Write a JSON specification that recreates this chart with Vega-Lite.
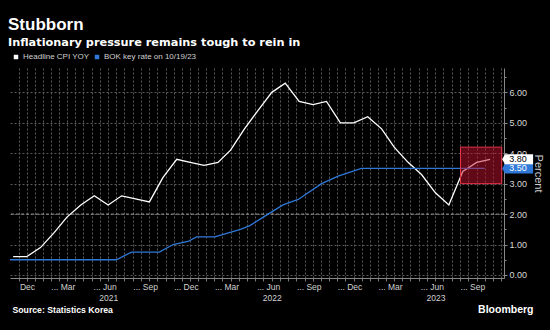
{
  "$schema": "https://vega.github.io/schema/vega-lite/v6.json",
  "width": 494,
  "height": 210,
  "autosize": {"type": "none"},
  "padding": {"left": 10, "top": 68, "right": 46, "bottom": 52},
  "background": "#000000",
  "config": {
    "view": {"stroke": null},
    "font": "Liberation Sans",
    "axis": {"labelFont": "Liberation Sans", "titleFont": "Liberation Sans"}
  },
  "title": {
    "text": "Stubborn",
    "subtitle": "Inflationary pressure remains tough to rein in",
    "anchor": "start",
    "frame": "group",
    "fontSize": 17,
    "fontWeight": "bold",
    "color": "#ffffff",
    "subtitleFont": "DejaVu Sans",
    "subtitleFontSize": 11.3,
    "subtitleFontWeight": "bold",
    "subtitleColor": "#ffffff",
    "subtitlePadding": 3,
    "offset": 4,
    "dx": -2
  },
  "resolve": {"axis": {"x": "independent", "y": "independent"}},
  "layer": [
    {
      "data": {"values": [{"target": 2}]},
      "mark": {"type": "rule", "color": "#9a9a9a", "strokeDash": [3, 2], "strokeWidth": 1},
      "encoding": {
        "y": {"field": "target", "type": "quantitative", "scale": {"domain": [-0.1, 6.8]}, "axis": null}
      }
    },
    {
      "data": {"values": [
        {"date": "2020-11-01", "value": 0.6, "series": "Headline CPI YOY"},
        {"date": "2020-12-01", "value": 0.6, "series": "Headline CPI YOY"},
        {"date": "2021-01-01", "value": 0.9, "series": "Headline CPI YOY"},
        {"date": "2021-02-01", "value": 1.4, "series": "Headline CPI YOY"},
        {"date": "2021-03-01", "value": 1.9, "series": "Headline CPI YOY"},
        {"date": "2021-04-01", "value": 2.3, "series": "Headline CPI YOY"},
        {"date": "2021-05-01", "value": 2.6, "series": "Headline CPI YOY"},
        {"date": "2021-06-01", "value": 2.3, "series": "Headline CPI YOY"},
        {"date": "2021-07-01", "value": 2.6, "series": "Headline CPI YOY"},
        {"date": "2021-08-01", "value": 2.5, "series": "Headline CPI YOY"},
        {"date": "2021-09-01", "value": 2.4, "series": "Headline CPI YOY"},
        {"date": "2021-10-01", "value": 3.2, "series": "Headline CPI YOY"},
        {"date": "2021-11-01", "value": 3.8, "series": "Headline CPI YOY"},
        {"date": "2021-12-01", "value": 3.7, "series": "Headline CPI YOY"},
        {"date": "2022-01-01", "value": 3.6, "series": "Headline CPI YOY"},
        {"date": "2022-02-01", "value": 3.7, "series": "Headline CPI YOY"},
        {"date": "2022-03-01", "value": 4.1, "series": "Headline CPI YOY"},
        {"date": "2022-04-01", "value": 4.8, "series": "Headline CPI YOY"},
        {"date": "2022-05-01", "value": 5.4, "series": "Headline CPI YOY"},
        {"date": "2022-06-01", "value": 6.0, "series": "Headline CPI YOY"},
        {"date": "2022-07-01", "value": 6.3, "series": "Headline CPI YOY"},
        {"date": "2022-08-01", "value": 5.7, "series": "Headline CPI YOY"},
        {"date": "2022-09-01", "value": 5.6, "series": "Headline CPI YOY"},
        {"date": "2022-10-01", "value": 5.7, "series": "Headline CPI YOY"},
        {"date": "2022-11-01", "value": 5.0, "series": "Headline CPI YOY"},
        {"date": "2022-12-01", "value": 5.0, "series": "Headline CPI YOY"},
        {"date": "2023-01-01", "value": 5.2, "series": "Headline CPI YOY"},
        {"date": "2023-02-01", "value": 4.8, "series": "Headline CPI YOY"},
        {"date": "2023-03-01", "value": 4.2, "series": "Headline CPI YOY"},
        {"date": "2023-04-01", "value": 3.7, "series": "Headline CPI YOY"},
        {"date": "2023-05-01", "value": 3.3, "series": "Headline CPI YOY"},
        {"date": "2023-06-01", "value": 2.7, "series": "Headline CPI YOY"},
        {"date": "2023-07-01", "value": 2.3, "series": "Headline CPI YOY"},
        {"date": "2023-08-01", "value": 3.4, "series": "Headline CPI YOY"},
        {"date": "2023-09-01", "value": 3.7, "series": "Headline CPI YOY"},
        {"date": "2023-10-01", "value": 3.8, "series": "Headline CPI YOY"},
        {"date": "2020-10-25", "value": 0.5, "series": "BOK key rate on 10/19/23"},
        {"date": "2021-06-19", "value": 0.5, "series": "BOK key rate on 10/19/23"},
        {"date": "2021-07-23", "value": 0.75, "series": "BOK key rate on 10/19/23"},
        {"date": "2021-09-23", "value": 0.75, "series": "BOK key rate on 10/19/23"},
        {"date": "2021-10-24", "value": 1.0, "series": "BOK key rate on 10/19/23"},
        {"date": "2021-11-26", "value": 1.1, "series": "BOK key rate on 10/19/23"},
        {"date": "2021-12-15", "value": 1.25, "series": "BOK key rate on 10/19/23"},
        {"date": "2022-01-25", "value": 1.25, "series": "BOK key rate on 10/19/23"},
        {"date": "2022-03-23", "value": 1.5, "series": "BOK key rate on 10/19/23"},
        {"date": "2022-04-13", "value": 1.62, "series": "BOK key rate on 10/19/23"},
        {"date": "2022-05-13", "value": 1.9, "series": "BOK key rate on 10/19/23"},
        {"date": "2022-06-26", "value": 2.3, "series": "BOK key rate on 10/19/23"},
        {"date": "2022-07-30", "value": 2.48, "series": "BOK key rate on 10/19/23"},
        {"date": "2022-09-20", "value": 3.0, "series": "BOK key rate on 10/19/23"},
        {"date": "2022-10-27", "value": 3.25, "series": "BOK key rate on 10/19/23"},
        {"date": "2022-12-18", "value": 3.5, "series": "BOK key rate on 10/19/23"},
        {"date": "2023-09-19", "value": 3.5, "series": "BOK key rate on 10/19/23"}
      ]},
      "mark": {"type": "line", "strokeWidth": 1.3},
      "encoding": {
        "x": {
          "field": "date", "type": "temporal",
          "scale": {"domain": [{"year": 2020, "month": 10, "date": 25}, {"year": 2023, "month": 11, "date": 1}]},
          "axis": {
            "values": {"expr": "[datetime(2020,10,13),datetime(2020,11,1),datetime(2020,11,19),datetime(2021,0,6),datetime(2021,0,24),datetime(2021,1,11),datetime(2021,2,1),datetime(2021,2,19),datetime(2021,3,6),datetime(2021,3,25),datetime(2021,4,13),datetime(2021,5,1),datetime(2021,5,19),datetime(2021,6,7),datetime(2021,6,26),datetime(2021,7,13),datetime(2021,8,1),datetime(2021,8,19),datetime(2021,9,7),datetime(2021,9,25),datetime(2021,10,12),datetime(2021,11,1),datetime(2021,11,19),datetime(2022,0,6),datetime(2022,0,24),datetime(2022,1,11),datetime(2022,2,1),datetime(2022,2,19),datetime(2022,3,6),datetime(2022,3,25),datetime(2022,4,13),datetime(2022,5,1),datetime(2022,5,19),datetime(2022,6,7),datetime(2022,6,26),datetime(2022,7,13),datetime(2022,8,1),datetime(2022,8,19),datetime(2022,9,7),datetime(2022,9,25),datetime(2022,10,12),datetime(2022,11,1),datetime(2022,11,19),datetime(2023,0,6),datetime(2023,0,24),datetime(2023,1,11),datetime(2023,2,1),datetime(2023,2,19),datetime(2023,3,6),datetime(2023,3,25),datetime(2023,4,13),datetime(2023,5,1),datetime(2023,5,19),datetime(2023,6,7),datetime(2023,6,26),datetime(2023,7,13),datetime(2023,8,1),datetime(2023,8,19),datetime(2023,9,7),datetime(2023,9,25)]"},
            "labelExpr": "date(datum.value) == 1 && month(datum.value) % 3 == 2 ? (year(datum.value) == 2020 ? 'Dec' : '... ' + timeFormat(datum.value, '%b')) : ''",
            "labelAlign": "right",
            "labelOffset": 8,
            "labelFontSize": 8.5,
            "labelColor": "#d0d0d0",
            "labelPadding": 1,
            "labelOverlap": false,
            "tickSize": 3,
            "tickColor": "#777777",
            "domainColor": "#888888",
            "grid": true,
            "gridColor": "#5a5a5a",
            "gridDash": [2, 2],
            "title": "Source: Statistics Korea",
            "titleAnchor": "start",
            "titleAlign": "left",
            "titleX": 2,
            "titleY": 34,
            "titleBaseline": "alphabetic",
            "titleFontSize": 8.7,
            "titleFontWeight": "bold",
            "titleColor": "#ffffff"
          }
        },
        "y": {
          "field": "value", "type": "quantitative",
          "scale": {"domain": [-0.1, 6.8]},
          "axis": {
            "orient": "right",
            "values": [0, 0.5, 1, 1.5, 2, 2.5, 3, 3.5, 4, 4.5, 5, 5.5, 6, 6.5],
            "labelExpr": "datum.value % 1 === 0 ? format(datum.value, '.2f') : ''",
            "grid": true,
            "gridColor": {"condition": {"test": "datum.value % 1 !== 0", "value": "transparent"}, "value": "#5a5a5a"},
            "gridDash": [2, 2],
            "tickSize": {"condition": {"test": "datum.value % 1 !== 0", "value": 2}, "value": 3},
            "tickColor": "#888888",
            "domainColor": "#888888",
            "labelColor": "#d8d8d8",
            "labelFontSize": 9,
            "labelPadding": 2,
            "labelOverlap": false,
            "title": "Percent",
            "titleColor": "#cccccc",
            "titleFontSize": 11,
            "titleFontWeight": "normal",
            "titlePadding": 6
          }
        },
        "color": {
          "field": "series", "type": "nominal",
          "scale": {"domain": ["Headline CPI YOY", "BOK key rate on 10/19/23"], "range": ["#ffffff", "#2f78d8"]},
          "legend": {
            "orient": "none",
            "legendX": 2,
            "legendY": -15,
            "direction": "horizontal",
            "title": null,
            "symbolType": "square",
            "symbolSize": 20,
            "symbolStrokeWidth": 0,
            "labelFontSize": 8,
            "labelColor": "#d0d0d0",
            "labelOffset": 3,
            "columnPadding": 3,
            "encode": {"symbols": {"update": {"fill": {"field": "value", "scale": "color"}, "stroke": {"value": "transparent"}}}}
          }
        }
      }
    },
    {
      "data": {"values": [{"from": "2023-07-27", "to": "2023-10-27", "low": 3.0, "high": 4.2}]},
      "mark": {"type": "rect", "fill": "#c41230", "fillOpacity": 0.5, "stroke": "#e8344a", "strokeWidth": 1},
      "encoding": {
        "x": {
          "field": "from", "type": "temporal",
          "scale": {"domain": [{"year": 2020, "month": 10, "date": 25}, {"year": 2023, "month": 11, "date": 1}]},
          "axis": {
            "orient": "bottom",
            "values": {"expr": "[datetime(2021,5,1),datetime(2022,5,1),datetime(2023,5,1)]"},
            "format": "%Y",
            "domain": false,
            "ticks": false,
            "grid": false,
            "labelPadding": 15,
            "labelFontSize": 8.5,
            "labelColor": "#d0d0d0",
            "title": "Bloomberg",
            "titleAlign": "right",
            "titleAnchor": "end",
            "titleX": 523,
            "titleY": 34,
            "titleBaseline": "alphabetic",
            "titleFontSize": 10.5,
            "titleFontWeight": "bold",
            "titleColor": "#ffffff"
          }
        },
        "x2": {"field": "to"},
        "y": {"field": "low", "type": "quantitative", "scale": {"domain": [-0.1, 6.8]}, "axis": null},
        "y2": {"field": "high"}
      }
    },
    {
      "data": {"values": [
        {"date": "2023-10-01", "value": 3.5, "label": "3.50", "series": "BOK"},
        {"date": "2023-10-01", "value": 3.8, "label": "3.80", "series": "CPI"}
      ]},
      "layer": [
        {
          "mark": {"type": "point", "shape": "M1.2,0L1.5,-0.5L4.3,-0.5L4.3,0.5L1.5,0.5Z", "size": 400, "filled": true, "opacity": 1, "strokeWidth": 0},
          "encoding": {
            "x": {
              "field": "date", "type": "temporal",
              "scale": {"domain": [{"year": 2020, "month": 10, "date": 25}, {"year": 2023, "month": 11, "date": 1}]},
              "axis": {
                "orient": "bottom",
                "values": {"expr": "[datetime(2021,11,1),datetime(2022,11,1)]"},
                "labels": false,
                "domain": false,
                "grid": false,
                "tickSize": 13,
                "tickColor": "#777777",
                "offset": 11,
                "title": null
              }
            },
            "y": {"field": "value", "type": "quantitative", "scale": {"domain": [-0.1, 6.8]}, "axis": null},
            "fill": {"condition": {"test": "datum.series === 'CPI'", "value": "#ffffff"}, "value": "#2f78d8"}
          }
        },
        {
          "mark": {"type": "text", "dx": 28, "fontSize": 9, "align": "center", "baseline": "middle"},
          "encoding": {
            "x": {"field": "date", "type": "temporal", "scale": {"domain": [{"year": 2020, "month": 10, "date": 25}, {"year": 2023, "month": 11, "date": 1}]}, "axis": null},
            "y": {"field": "value", "type": "quantitative", "scale": {"domain": [-0.1, 6.8]}, "axis": null},
            "text": {"field": "label"},
            "fill": {"condition": {"test": "datum.series === 'CPI'", "value": "#000000"}, "value": "#ffffff"}
          }
        }
      ]
    }
  ]
}
